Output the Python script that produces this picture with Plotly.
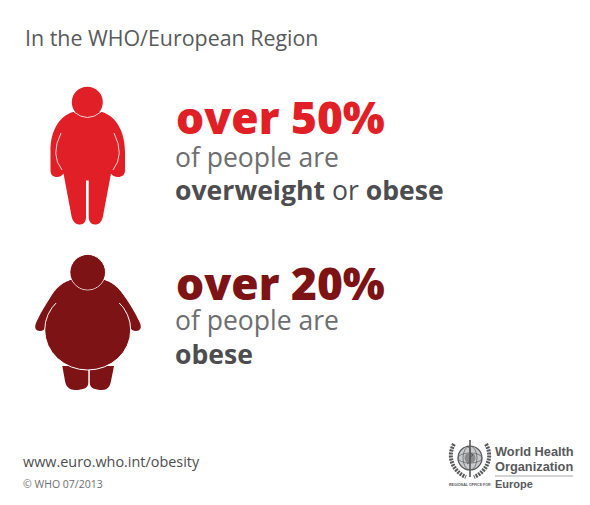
import plotly.graph_objects as go

title_text = "In the WHO/European Region"
headlines = ["over 50%", "over 20%"]
sublines = ["of people are", "of people are"]
detail_lines = ["<b>overweight</b> or <b>obese</b>", "<b>obese</b>"]
footer_url = "www.euro.who.int/obesity"
footer_copy = "© WHO 07/2013"
RED = "#e01f26"
DARK = "#7d1315"
GREY = "#6d6e70"
CHAR = "#4d4d4f"
LOGO = "#58595b"

shapes = []
def path(d, fill=None, line=None, w=0, dash="solid"):
    shapes.append(dict(type="path", path=d, xref="x", yref="y", fillcolor=fill or "rgba(0,0,0,0)",
                       line=dict(color=line or "rgba(0,0,0,0)", width=w, dash=dash), layer="above"))
def circle(cx, cy, rx, ry, fill=None, line=None, w=0):
    shapes.append(dict(type="circle", x0=cx-rx, x1=cx+rx, y0=cy-ry, y1=cy+ry, xref="x", yref="y",
                       fillcolor=fill or "rgba(0,0,0,0)", line=dict(color=line or "rgba(0,0,0,0)", width=w), layer="above"))

# overweight figure (pictogram outline)
path("M73,112 C60,116 50,130 50.5,152 L50.5,170 C50.5,175 53,177 57,177 C60,177 62,175.5 63.5,173.5 "
     "L71.5,216 C72.5,222 76,224.5 80,224.5 C84,224.5 86,221 86,217 L86,180.5 L88.7,180.5 L88.7,217 "
     "C88.7,221 91,224.5 95,224.5 C99,224.5 102,222 103,216 L111,173.5 C112.5,175.5 114.5,177 118,177 "
     "C122,177 125,175 125,170 L125,152 C125,130 115,116 102,112 Z", RED)
circle(87.3, 102.3, 15.5, 15.5, RED)
path("M74,112 Q87.3,123 101,112", None, "#f6d5d5", 1)
path("M61,133 Q50,155 62,170", None, "#f6d5d5", 1)
path("M114,133 Q125,155 113,170", None, "#f6d5d5", 1)

# obese figure
path("M62.3,366 L65,381 C66,387 70,390 75,390 C83,390 88.3,388 88.3,383 L88.3,370 L89.8,370 L89.8,383 "
     "C89.8,388 95,390 102,390 C107,390 110,387 111,381 L114,366 Z", DARK)
path("M71,280 C60,283 48,298 36,323 C34,328 36,331 40,331 C43,331 45,329 46,326 L52,310 L123,310 L129,326 "
     "C130,329 133,331 136,331 C140,331 142,328 140,323 C128,298 116,283 104,280 Z", DARK)
circle(87.7, 330, 43, 40, DARK, "white", 1)
path("M71,280 C60,283 52,292 48,303 L127,303 C123,292 115,283 104,280 Z", DARK)
circle(87.7, 272.3, 17.6, 17.6, DARK, "white", 1)
circle(87.7, 272.3, 17.2, 17.2, DARK)

# logo emblem
circle(470, 458, 12, 12, "#c9cacc", LOGO, 1.2)
circle(470, 458, 7, 12, None, LOGO, 0.7)
circle(470, 458, 12, 5, None, LOGO, 0.7)
circle(470, 458, 5.5, 5.5, "#8a8b8d")
path("M470,440 L470,477", None, LOGO, 1.6)
path("M467,446 C473,449 467,452 473,455 C467,458 473,461 467,464", None, LOGO, 1)
path("M454,444 C447,456 452,471 466,477", None, LOGO, 4, "2px,1px")
path("M486,444 C493,456 488,471 474,477", None, LOGO, 4, "2px,1px")
path("M495,476 L573,476", None, "#a7a9ac", 1)

def text(x, y, s, size, color, family="Open Sans", bold=False, weight=None):
    f = dict(size=size, color=color, family=family)
    if weight:
        f["weight"] = weight
    return dict(x=x, y=y, xref="x", yref="y", text=f"<b>{s}</b>" if bold else s, showarrow=False,
                xanchor="left", yanchor="middle", align="left", font=f)

ann = [
    text(22.5, 37, title_text, 21.4, "#58595b"),
    text(173.5, 117, headlines[0], 44.3, RED, weight=800),
    text(173, 157, sublines[0], 26.5, GREY),
    text(173, 190, detail_lines[0], 26.6, CHAR),
    text(173.5, 283, headlines[1], 44.3, DARK, weight=800),
    text(173, 320, sublines[1], 26.5, GREY),
    text(173, 354, detail_lines[1], 26.6, CHAR),
    text(21, 461, footer_url, 14.4, CHAR),
    text(21, 484, footer_copy, 10.5, GREY),
    text(493, 451, "World Health", 12.8, LOGO, "Liberation Sans", True),
    text(493, 466, "Organization", 12.8, LOGO, "Liberation Sans", True),
    text(447, 485, "REGIONAL OFFICE FOR", 3.6, LOGO, "Liberation Sans", True),
    text(493, 484, "Europe", 11, LOGO, "Liberation Sans", True),
]

fig = go.Figure()
fig.update_layout(width=590, height=505, margin=dict(l=0, r=0, t=0, b=0), autosize=False,
                  paper_bgcolor="white", plot_bgcolor="white", shapes=shapes, annotations=ann,
                  showlegend=False,
                  xaxis=dict(range=[0, 590], visible=False, fixedrange=True),
                  yaxis=dict(range=[505, 0], visible=False, fixedrange=True))
fig.write_html("out.html", config=dict(displayModeBar=False),
               post_script="document.body.style.margin='0';document.documentElement.style.overflow='hidden';")
